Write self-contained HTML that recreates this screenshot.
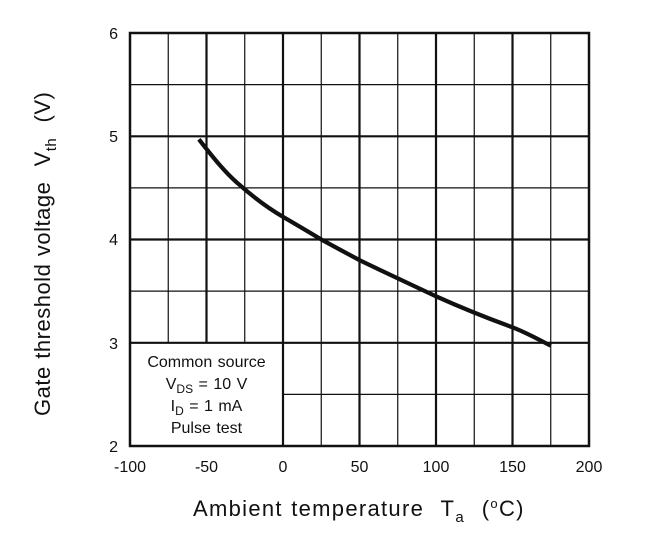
<!DOCTYPE html>
<html><head><meta charset="utf-8"><style>
html,body{margin:0;padding:0;background:#fff;}
svg{display:block;}
text{font-family:"Liberation Sans",Arial,sans-serif;fill:#111;white-space:pre;}
</style></head><body>
<svg width="650" height="539" viewBox="0 0 650 539" xmlns="http://www.w3.org/2000/svg" xml:space="preserve">
<g stroke="#111">
  <g stroke-width="1.2">
    <line x1="168.25" y1="33" x2="168.25" y2="342"/>
    <line x1="244.75" y1="33" x2="244.75" y2="342"/>
    <line x1="321.25" y1="33" x2="321.25" y2="446"/>
    <line x1="397.75" y1="33" x2="397.75" y2="446"/>
    <line x1="474.25" y1="33" x2="474.25" y2="446"/>
    <line x1="550.75" y1="33" x2="550.75" y2="446"/>
    <line x1="130" y1="84.6" x2="589" y2="84.6"/>
    <line x1="130" y1="187.9" x2="589" y2="187.9"/>
    <line x1="130" y1="291.1" x2="589" y2="291.1"/>
    <line x1="283" y1="394.4" x2="589" y2="394.4"/>
  </g>
  <g stroke-width="2.2">
    <line x1="206.5" y1="33" x2="206.5" y2="342"/>
    <line x1="283" y1="33" x2="283" y2="446"/>
    <line x1="359.5" y1="33" x2="359.5" y2="446"/>
    <line x1="436" y1="33" x2="436" y2="446"/>
    <line x1="512.5" y1="33" x2="512.5" y2="446"/>
    <line x1="130" y1="136.3" x2="589" y2="136.3"/>
    <line x1="130" y1="239.5" x2="589" y2="239.5"/>
    <line x1="130" y1="342.8" x2="589" y2="342.8"/>
  </g>
  <rect x="130" y="33" width="459" height="413" fill="none" stroke-width="2.5"/>
  <path d="M198.9,139.3 C215,160 225,172 237,182.7 C252,196 266,207 283,216.8 C297,225 309,232 321.3,239.5 C335,247 346,253 359.5,260.1 C386,273 410,284 436,296.3 C462,308 487,318 512.5,327.3 C527,333 538,339 550.8,345.8" fill="none" stroke-width="4.2"/>
</g>
<g font-size="16" text-anchor="middle">
  <text x="130" y="472">-100</text>
  <text x="206.5" y="472">-50</text>
  <text x="283" y="472">0</text>
  <text x="359.5" y="472">50</text>
  <text x="436" y="472">100</text>
  <text x="512.5" y="472">150</text>
  <text x="589" y="472">200</text>
</g>
<g font-size="16" text-anchor="end">
  <text x="118" y="39">6</text>
  <text x="118" y="142">5</text>
  <text x="118" y="245">4</text>
  <text x="118" y="349">3</text>
  <text x="118" y="452">2</text>
</g>
<g font-size="16" text-anchor="middle" word-spacing="1">
  <text x="206.5" y="367">Common source</text>
  <text x="206.5" y="389">V<tspan font-size="12" dy="4">DS</tspan><tspan dy="-4"> = 10 V</tspan></text>
  <text x="206.5" y="411">I<tspan font-size="12" dy="4">D</tspan><tspan dy="-4"> = 1 mA</tspan></text>
  <text x="206.5" y="433">Pulse test</text>
</g>
<text x="193" y="516" font-size="22" letter-spacing="1.3" word-spacing="1">Ambient temperature  T<tspan font-size="15" dy="6">a</tspan><tspan dy="-6">  (</tspan><tspan font-size="13" dy="-8">o</tspan><tspan dy="8">C)</tspan></text>
<text transform="translate(50,416) rotate(-90)" font-size="22" letter-spacing="0.5" word-spacing="1">Gate threshold voltage  V<tspan font-size="15" dy="6">th</tspan><tspan dy="-6">  (V)</tspan></text>
</svg>
</body></html>
